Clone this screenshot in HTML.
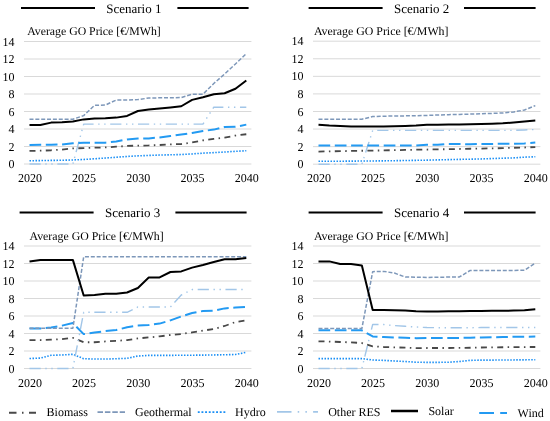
<!DOCTYPE html><html><head><meta charset="utf-8"><style>html,body{margin:0;padding:0;background:#fff;}body{width:550px;height:421px;overflow:hidden;}svg{display:block;will-change:transform;}text{font-family:"Liberation Serif",serif;fill:#000;text-rendering:geometricPrecision;}</style></head><body>
<svg width="550" height="421" viewBox="0 0 550 421">
<line x1="24" x2="251.4" y1="164.00" y2="164.00" stroke="#d9d9d9" stroke-width="1"/>
<text x="14.6" y="168.10" font-size="12" text-anchor="end">0</text>
<line x1="24" x2="251.4" y1="146.50" y2="146.50" stroke="#d9d9d9" stroke-width="1"/>
<text x="14.6" y="150.60" font-size="12" text-anchor="end">2</text>
<line x1="24" x2="251.4" y1="129.00" y2="129.00" stroke="#d9d9d9" stroke-width="1"/>
<text x="14.6" y="133.10" font-size="12" text-anchor="end">4</text>
<line x1="24" x2="251.4" y1="111.50" y2="111.50" stroke="#d9d9d9" stroke-width="1"/>
<text x="14.6" y="115.60" font-size="12" text-anchor="end">6</text>
<line x1="24" x2="251.4" y1="94.00" y2="94.00" stroke="#d9d9d9" stroke-width="1"/>
<text x="14.6" y="98.10" font-size="12" text-anchor="end">8</text>
<line x1="24" x2="251.4" y1="76.50" y2="76.50" stroke="#d9d9d9" stroke-width="1"/>
<text x="14.6" y="80.60" font-size="12" text-anchor="end">10</text>
<line x1="24" x2="251.4" y1="59.00" y2="59.00" stroke="#d9d9d9" stroke-width="1"/>
<text x="14.6" y="63.10" font-size="12" text-anchor="end">12</text>
<line x1="24" x2="251.4" y1="41.50" y2="41.50" stroke="#d9d9d9" stroke-width="1"/>
<text x="14.6" y="45.60" font-size="12" text-anchor="end">14</text>
<text x="29.90" y="182.20" font-size="12" text-anchor="middle">2020</text>
<text x="84.10" y="182.20" font-size="12" text-anchor="middle">2025</text>
<text x="138.30" y="182.20" font-size="12" text-anchor="middle">2030</text>
<text x="192.50" y="182.20" font-size="12" text-anchor="middle">2035</text>
<text x="246.70" y="182.20" font-size="12" text-anchor="middle">2040</text>
<text x="27.2" y="35.10" font-size="11.9" textLength="133.6" lengthAdjust="spacingAndGlyphs">Average GO Price [€/MWh]</text>
<line x1="21" x2="95" y1="8.0" y2="8.0" stroke="#000" stroke-width="2"/>
<line x1="177.4" x2="248.6" y1="8.0" y2="8.0" stroke="#000" stroke-width="2"/>
<text x="133.8" y="12.80" font-size="13" text-anchor="middle">Scenario 1</text>
<polyline points="29.50,160.76 40.34,160.59 51.18,160.41 62.02,160.24 72.86,159.97 83.70,159.45 94.54,158.75 105.38,158.05 116.22,157.26 127.06,156.47 137.90,155.86 148.74,155.43 159.58,155.07 170.42,154.81 181.26,154.55 192.10,153.94 202.94,153.15 213.78,152.62 224.62,152.01 235.46,151.31 246.30,150.70" fill="none" stroke="#1a8ff5" stroke-width="1.6" stroke-dasharray="1.5 1.5" stroke-linejoin="round" stroke-linecap="butt"/>
<polyline points="29.50,150.96 40.34,150.70 51.18,150.26 62.02,149.56 72.86,148.43 83.70,148.07 94.54,147.72 105.38,147.38 116.22,146.68 127.06,145.97 137.90,145.62 148.74,145.45 159.58,145.01 170.42,144.40 181.26,144.05 192.10,142.39 202.94,140.38 213.78,138.97 224.62,137.57 235.46,135.56 246.30,134.25" fill="none" stroke="#484848" stroke-width="1.8" stroke-dasharray="6 4.4 1.5 4.4" stroke-linejoin="round" stroke-linecap="butt"/>
<polyline points="29.50,164.00 40.34,164.00 51.18,164.00 62.02,164.00 72.86,164.00 83.70,124.10 94.54,124.10 105.38,124.10 116.22,124.10 127.06,124.10 137.90,124.10 148.74,124.10 159.58,124.10 170.42,124.10 181.26,124.10 192.10,124.10 202.94,124.10 213.78,107.21 224.62,107.21 235.46,107.21 246.30,107.21" fill="none" stroke="#a2c6e8" stroke-width="1.4" stroke-dasharray="11.2 4.6 1.4 4.6 1.4 4.6" stroke-linejoin="round" stroke-linecap="butt"/>
<polyline points="29.50,145.01 40.34,144.84 51.18,144.75 62.02,144.40 72.86,143.18 83.70,142.65 94.54,142.65 105.38,142.65 116.22,141.60 127.06,139.41 137.90,138.62 148.74,138.45 159.58,137.40 170.42,136.00 181.26,134.60 192.10,133.03 202.94,131.01 213.78,129.61 224.62,126.99 235.46,126.81 246.30,124.62" fill="none" stroke="#239af2" stroke-width="2.0" stroke-dasharray="11.7 4.6" stroke-linejoin="round" stroke-linecap="butt"/>
<polyline points="29.50,119.20 40.34,119.20 51.18,119.20 62.02,119.20 72.86,119.20 83.70,115.61 94.54,105.38 105.38,105.03 116.22,100.04 127.06,100.04 137.90,99.60 148.74,98.03 159.58,97.85 170.42,97.76 181.26,97.50 192.10,94.26 202.94,94.26 213.78,83.50 224.62,73.96 235.46,63.99 246.30,53.58" fill="none" stroke="#7d97b9" stroke-width="1.5" stroke-dasharray="4 1.85" stroke-linejoin="round" stroke-linecap="butt"/>
<polyline points="29.50,124.97 40.34,124.97 51.18,122.61 62.02,122.35 72.86,121.56 83.70,119.38 94.54,118.59 105.38,118.24 116.22,117.62 127.06,115.96 137.90,110.98 148.74,109.58 159.58,108.44 170.42,107.39 181.26,106.25 192.10,99.86 202.94,97.33 213.78,94.26 224.62,93.21 235.46,88.75 246.30,80.44" fill="none" stroke="#000000" stroke-width="2.0" stroke-linejoin="round" stroke-linecap="butt"/>
<line x1="313" x2="540.4" y1="164.20" y2="164.20" stroke="#d9d9d9" stroke-width="1"/>
<text x="303.6" y="168.30" font-size="12" text-anchor="end">0</text>
<line x1="313" x2="540.4" y1="146.63" y2="146.63" stroke="#d9d9d9" stroke-width="1"/>
<text x="303.6" y="150.73" font-size="12" text-anchor="end">2</text>
<line x1="313" x2="540.4" y1="129.06" y2="129.06" stroke="#d9d9d9" stroke-width="1"/>
<text x="303.6" y="133.16" font-size="12" text-anchor="end">4</text>
<line x1="313" x2="540.4" y1="111.49" y2="111.49" stroke="#d9d9d9" stroke-width="1"/>
<text x="303.6" y="115.59" font-size="12" text-anchor="end">6</text>
<line x1="313" x2="540.4" y1="93.91" y2="93.91" stroke="#d9d9d9" stroke-width="1"/>
<text x="303.6" y="98.01" font-size="12" text-anchor="end">8</text>
<line x1="313" x2="540.4" y1="76.34" y2="76.34" stroke="#d9d9d9" stroke-width="1"/>
<text x="303.6" y="80.44" font-size="12" text-anchor="end">10</text>
<line x1="313" x2="540.4" y1="58.77" y2="58.77" stroke="#d9d9d9" stroke-width="1"/>
<text x="303.6" y="62.87" font-size="12" text-anchor="end">12</text>
<line x1="313" x2="540.4" y1="41.20" y2="41.20" stroke="#d9d9d9" stroke-width="1"/>
<text x="303.6" y="45.30" font-size="12" text-anchor="end">14</text>
<text x="318.90" y="182.40" font-size="12" text-anchor="middle">2020</text>
<text x="373.10" y="182.40" font-size="12" text-anchor="middle">2025</text>
<text x="427.30" y="182.40" font-size="12" text-anchor="middle">2030</text>
<text x="481.50" y="182.40" font-size="12" text-anchor="middle">2035</text>
<text x="535.70" y="182.40" font-size="12" text-anchor="middle">2040</text>
<text x="313.9" y="34.80" font-size="11.9" textLength="134.6" lengthAdjust="spacingAndGlyphs">Average GO Price [€/MWh]</text>
<line x1="308.6" x2="382.6" y1="8.0" y2="8.0" stroke="#000" stroke-width="2"/>
<line x1="464" x2="535.6" y1="8.0" y2="8.0" stroke="#000" stroke-width="2"/>
<text x="421.7" y="12.80" font-size="13" text-anchor="middle">Scenario 2</text>
<polyline points="318.50,161.21 329.34,161.21 340.18,161.21 351.02,161.12 361.86,161.04 372.70,160.95 383.54,160.86 394.38,160.69 405.22,160.51 416.06,160.33 426.90,160.16 437.74,159.89 448.58,159.63 459.42,159.37 470.26,159.19 481.10,158.93 491.94,158.58 502.78,158.23 513.62,157.87 524.46,157.17 535.30,156.73" fill="none" stroke="#1a8ff5" stroke-width="1.6" stroke-dasharray="1.5 1.5" stroke-linejoin="round" stroke-linecap="butt"/>
<polyline points="318.50,151.55 329.34,151.37 340.18,151.11 351.02,150.93 361.86,150.76 372.70,150.58 383.54,150.41 394.38,150.14 405.22,149.97 416.06,149.70 426.90,149.53 437.74,149.35 448.58,149.18 459.42,149.00 470.26,148.74 481.10,148.56 491.94,148.39 502.78,148.12 513.62,147.77 524.46,147.51 535.30,147.07" fill="none" stroke="#484848" stroke-width="1.8" stroke-dasharray="6 4.4 1.5 4.4" stroke-linejoin="round" stroke-linecap="butt"/>
<polyline points="318.50,164.20 329.34,164.20 340.18,164.20 351.02,164.20 361.86,164.20 372.70,130.38 383.54,130.38 394.38,130.38 405.22,130.38 416.06,130.38 426.90,130.38 437.74,130.38 448.58,130.38 459.42,130.38 470.26,130.38 481.10,130.38 491.94,130.38 502.78,130.38 513.62,130.38 524.46,129.94 535.30,129.50" fill="none" stroke="#a2c6e8" stroke-width="1.4" stroke-dasharray="11.2 4.6 1.4 4.6 1.4 4.6" stroke-linejoin="round" stroke-linecap="butt"/>
<polyline points="318.50,145.49 329.34,145.49 340.18,145.49 351.02,145.49 361.86,145.49 372.70,145.49 383.54,145.49 394.38,145.49 405.22,145.49 416.06,145.49 426.90,144.87 437.74,144.87 448.58,143.99 459.42,143.99 470.26,144.26 481.10,143.99 491.94,143.99 502.78,143.73 513.62,143.73 524.46,143.47 535.30,142.50" fill="none" stroke="#239af2" stroke-width="2.0" stroke-dasharray="11.7 4.6" stroke-linejoin="round" stroke-linecap="butt"/>
<polyline points="318.50,119.22 329.34,119.22 340.18,119.22 351.02,119.22 361.86,119.22 372.70,116.58 383.54,116.23 394.38,115.88 405.22,115.88 416.06,115.70 426.90,115.44 437.74,115.00 448.58,114.65 459.42,114.38 470.26,114.12 481.10,113.77 491.94,113.42 502.78,112.98 513.62,111.92 524.46,109.99 535.30,105.60" fill="none" stroke="#7d97b9" stroke-width="1.5" stroke-dasharray="4 1.85" stroke-linejoin="round" stroke-linecap="butt"/>
<polyline points="318.50,124.66 329.34,125.45 340.18,125.98 351.02,126.42 361.86,126.60 372.70,126.60 383.54,126.42 394.38,126.16 405.22,125.89 416.06,125.54 426.90,124.84 437.74,124.66 448.58,124.49 459.42,124.40 470.26,124.22 481.10,124.05 491.94,123.79 502.78,123.35 513.62,122.47 524.46,121.50 535.30,120.62" fill="none" stroke="#000000" stroke-width="2.0" stroke-linejoin="round" stroke-linecap="butt"/>
<line x1="24" x2="251.4" y1="368.50" y2="368.50" stroke="#d9d9d9" stroke-width="1"/>
<text x="14.6" y="372.60" font-size="12" text-anchor="end">0</text>
<line x1="24" x2="251.4" y1="351.00" y2="351.00" stroke="#d9d9d9" stroke-width="1"/>
<text x="14.6" y="355.10" font-size="12" text-anchor="end">2</text>
<line x1="24" x2="251.4" y1="333.50" y2="333.50" stroke="#d9d9d9" stroke-width="1"/>
<text x="14.6" y="337.60" font-size="12" text-anchor="end">4</text>
<line x1="24" x2="251.4" y1="316.00" y2="316.00" stroke="#d9d9d9" stroke-width="1"/>
<text x="14.6" y="320.10" font-size="12" text-anchor="end">6</text>
<line x1="24" x2="251.4" y1="298.50" y2="298.50" stroke="#d9d9d9" stroke-width="1"/>
<text x="14.6" y="302.60" font-size="12" text-anchor="end">8</text>
<line x1="24" x2="251.4" y1="281.00" y2="281.00" stroke="#d9d9d9" stroke-width="1"/>
<text x="14.6" y="285.10" font-size="12" text-anchor="end">10</text>
<line x1="24" x2="251.4" y1="263.50" y2="263.50" stroke="#d9d9d9" stroke-width="1"/>
<text x="14.6" y="267.60" font-size="12" text-anchor="end">12</text>
<line x1="24" x2="251.4" y1="246.00" y2="246.00" stroke="#d9d9d9" stroke-width="1"/>
<text x="14.6" y="250.10" font-size="12" text-anchor="end">14</text>
<text x="29.90" y="386.70" font-size="12" text-anchor="middle">2020</text>
<text x="84.10" y="386.70" font-size="12" text-anchor="middle">2025</text>
<text x="138.30" y="386.70" font-size="12" text-anchor="middle">2030</text>
<text x="192.50" y="386.70" font-size="12" text-anchor="middle">2035</text>
<text x="246.70" y="386.70" font-size="12" text-anchor="middle">2040</text>
<text x="29.5" y="239.60" font-size="11.9" textLength="134.2" lengthAdjust="spacingAndGlyphs">Average GO Price [€/MWh]</text>
<line x1="19.6" x2="93.6" y1="212.4" y2="212.4" stroke="#000" stroke-width="2"/>
<line x1="175.4" x2="246.6" y1="212.4" y2="212.4" stroke="#000" stroke-width="2"/>
<text x="132.7" y="217.20" font-size="13" text-anchor="middle">Scenario 3</text>
<polyline points="29.50,358.52 40.34,358.09 51.18,355.29 62.02,354.94 72.86,354.32 83.70,358.70 94.54,359.05 105.38,359.05 116.22,358.70 127.06,358.35 137.90,355.99 148.74,355.38 159.58,355.38 170.42,355.38 181.26,355.20 192.10,355.20 202.94,355.11 213.78,354.94 224.62,354.76 235.46,354.50 246.30,352.31" fill="none" stroke="#1a8ff5" stroke-width="1.6" stroke-dasharray="1.5 1.5" stroke-linejoin="round" stroke-linecap="butt"/>
<polyline points="29.50,340.06 40.34,340.06 51.18,339.62 62.02,339.10 72.86,337.88 83.70,342.25 94.54,342.25 105.38,341.46 116.22,340.85 127.06,340.06 137.90,338.40 148.74,337.44 159.58,336.39 170.42,334.99 181.26,334.02 192.10,332.36 202.94,330.61 213.78,329.04 224.62,325.98 235.46,322.04 246.30,320.38" fill="none" stroke="#484848" stroke-width="1.8" stroke-dasharray="6 4.4 1.5 4.4" stroke-linejoin="round" stroke-linecap="butt"/>
<polyline points="29.50,368.50 40.34,368.50 51.18,368.50 62.02,368.50 72.86,368.50 83.70,312.32 94.54,312.32 105.38,312.32 116.22,312.32 127.06,312.32 137.90,306.99 148.74,306.99 159.58,306.99 170.42,306.99 181.26,295.00 192.10,289.57 202.94,289.57 213.78,289.57 224.62,289.57 235.46,289.57 246.30,289.57" fill="none" stroke="#a2c6e8" stroke-width="1.4" stroke-dasharray="11.2 4.6 1.4 4.6 1.4 4.6" stroke-linejoin="round" stroke-linecap="butt"/>
<polyline points="29.50,328.51 40.34,328.51 51.18,327.46 62.02,325.62 72.86,323.09 83.70,334.11 94.54,332.54 105.38,331.14 116.22,330.09 127.06,327.20 137.90,325.62 148.74,325.01 159.58,323.61 170.42,320.38 181.26,316.44 192.10,313.02 202.94,311.01 213.78,310.66 224.62,308.39 235.46,307.60 246.30,306.99" fill="none" stroke="#239af2" stroke-width="2.0" stroke-dasharray="11.7 4.6" stroke-linejoin="round" stroke-linecap="butt"/>
<polyline points="29.50,328.25 40.34,328.25 51.18,328.25 62.02,328.25 72.86,328.25 83.70,256.68 94.54,256.68 105.38,256.68 116.22,256.68 127.06,256.68 137.90,256.68 148.74,256.68 159.58,256.68 170.42,256.68 181.26,256.68 192.10,256.68 202.94,256.68 213.78,256.68 224.62,256.68 235.46,256.68 246.30,256.68" fill="none" stroke="#7d97b9" stroke-width="1.5" stroke-dasharray="4 1.85" stroke-linejoin="round" stroke-linecap="butt"/>
<polyline points="29.50,261.49 40.34,259.91 51.18,259.91 62.02,259.91 72.86,259.91 83.70,295.52 94.54,295.09 105.38,293.86 116.22,293.86 127.06,292.46 137.90,288.00 148.74,277.59 159.58,277.41 170.42,271.99 181.26,271.38 192.10,267.61 202.94,264.99 213.78,262.01 224.62,259.21 235.46,259.21 246.30,257.99" fill="none" stroke="#000000" stroke-width="2.0" stroke-linejoin="round" stroke-linecap="butt"/>
<line x1="313" x2="540.4" y1="368.50" y2="368.50" stroke="#d9d9d9" stroke-width="1"/>
<text x="303.6" y="372.60" font-size="12" text-anchor="end">0</text>
<line x1="313" x2="540.4" y1="351.00" y2="351.00" stroke="#d9d9d9" stroke-width="1"/>
<text x="303.6" y="355.10" font-size="12" text-anchor="end">2</text>
<line x1="313" x2="540.4" y1="333.50" y2="333.50" stroke="#d9d9d9" stroke-width="1"/>
<text x="303.6" y="337.60" font-size="12" text-anchor="end">4</text>
<line x1="313" x2="540.4" y1="316.00" y2="316.00" stroke="#d9d9d9" stroke-width="1"/>
<text x="303.6" y="320.10" font-size="12" text-anchor="end">6</text>
<line x1="313" x2="540.4" y1="298.50" y2="298.50" stroke="#d9d9d9" stroke-width="1"/>
<text x="303.6" y="302.60" font-size="12" text-anchor="end">8</text>
<line x1="313" x2="540.4" y1="281.00" y2="281.00" stroke="#d9d9d9" stroke-width="1"/>
<text x="303.6" y="285.10" font-size="12" text-anchor="end">10</text>
<line x1="313" x2="540.4" y1="263.50" y2="263.50" stroke="#d9d9d9" stroke-width="1"/>
<text x="303.6" y="267.60" font-size="12" text-anchor="end">12</text>
<line x1="313" x2="540.4" y1="246.00" y2="246.00" stroke="#d9d9d9" stroke-width="1"/>
<text x="303.6" y="250.10" font-size="12" text-anchor="end">14</text>
<text x="318.90" y="386.70" font-size="12" text-anchor="middle">2020</text>
<text x="373.10" y="386.70" font-size="12" text-anchor="middle">2025</text>
<text x="427.30" y="386.70" font-size="12" text-anchor="middle">2030</text>
<text x="481.50" y="386.70" font-size="12" text-anchor="middle">2035</text>
<text x="535.70" y="386.70" font-size="12" text-anchor="middle">2040</text>
<text x="313.9" y="239.60" font-size="11.9" textLength="134.6" lengthAdjust="spacingAndGlyphs">Average GO Price [€/MWh]</text>
<line x1="308.6" x2="382.6" y1="212.4" y2="212.4" stroke="#000" stroke-width="2"/>
<line x1="464" x2="535.6" y1="212.4" y2="212.4" stroke="#000" stroke-width="2"/>
<text x="421.7" y="217.20" font-size="13" text-anchor="middle">Scenario 4</text>
<polyline points="318.50,358.61 329.34,358.61 340.18,358.61 351.02,358.61 361.86,358.61 372.70,360.01 383.54,360.36 394.38,360.98 405.22,361.50 416.06,362.20 426.90,362.38 437.74,362.38 448.58,362.20 459.42,361.50 470.26,360.36 481.10,360.10 491.94,360.10 502.78,360.01 513.62,359.93 524.46,359.84 535.30,359.75" fill="none" stroke="#1a8ff5" stroke-width="1.6" stroke-dasharray="1.5 1.5" stroke-linejoin="round" stroke-linecap="butt"/>
<polyline points="318.50,341.38 329.34,341.55 340.18,341.99 351.02,342.43 361.86,343.04 372.70,346.36 383.54,346.98 394.38,347.32 405.22,347.68 416.06,348.11 426.90,348.02 437.74,348.02 448.58,348.02 459.42,347.85 470.26,347.76 481.10,347.50 491.94,347.32 502.78,347.24 513.62,347.15 524.46,347.06 535.30,346.98" fill="none" stroke="#484848" stroke-width="1.8" stroke-dasharray="6 4.4 1.5 4.4" stroke-linejoin="round" stroke-linecap="butt"/>
<polyline points="318.50,368.50 329.34,368.50 340.18,368.50 351.02,368.50 361.86,368.50 372.70,324.40 383.54,324.57 394.38,325.62 405.22,326.32 416.06,327.02 426.90,327.55 437.74,327.73 448.58,327.73 459.42,327.73 470.26,327.73 481.10,327.55 491.94,327.55 502.78,327.55 513.62,327.55 524.46,327.55 535.30,327.55" fill="none" stroke="#a2c6e8" stroke-width="1.4" stroke-dasharray="11.2 4.6 1.4 4.6 1.4 4.6" stroke-linejoin="round" stroke-linecap="butt"/>
<polyline points="318.50,330.35 329.34,330.35 340.18,330.35 351.02,330.35 361.86,330.35 372.70,336.39 383.54,337.00 394.38,337.44 405.22,337.70 416.06,338.14 426.90,337.96 437.74,337.96 448.58,337.96 459.42,337.88 470.26,337.70 481.10,337.44 491.94,337.26 502.78,337.00 513.62,336.82 524.46,336.74 535.30,336.56" fill="none" stroke="#239af2" stroke-width="2.0" stroke-dasharray="11.7 4.6" stroke-linejoin="round" stroke-linecap="butt"/>
<polyline points="318.50,328.51 329.34,328.51 340.18,328.51 351.02,328.51 361.86,328.51 372.70,271.64 383.54,271.38 394.38,273.04 405.22,276.98 416.06,277.24 426.90,277.41 437.74,277.24 448.58,277.06 459.42,276.98 470.26,270.41 481.10,270.41 491.94,270.41 502.78,270.41 513.62,270.41 524.46,270.24 535.30,262.98" fill="none" stroke="#7d97b9" stroke-width="1.5" stroke-dasharray="4 1.85" stroke-linejoin="round" stroke-linecap="butt"/>
<polyline points="318.50,261.40 329.34,261.40 340.18,264.02 351.02,264.02 361.86,265.43 372.70,309.96 383.54,309.88 394.38,310.23 405.22,310.57 416.06,311.19 426.90,311.45 437.74,311.45 448.58,311.36 459.42,311.27 470.26,311.10 481.10,310.93 491.94,310.84 502.78,310.75 513.62,310.57 524.46,310.23 535.30,309.35" fill="none" stroke="#000000" stroke-width="2.0" stroke-linejoin="round" stroke-linecap="butt"/>
<line x1="9" x2="36" y1="412.8" y2="412.8" stroke="#484848" stroke-width="2" stroke-dasharray="7.5 5.5 1.5 5.5"/>
<text x="46.6" y="416.3" font-size="12">Biomass</text>
<line x1="97.5" x2="125" y1="412.1" y2="412.1" stroke="#7d97b9" stroke-width="1.8" stroke-dasharray="5.5 1.9"/>
<text x="135" y="415.8" font-size="12">Geothermal</text>
<line x1="197.8" x2="225.5" y1="412.1" y2="412.1" stroke="#1a8ff5" stroke-width="1.9" stroke-dasharray="1.9 1.76"/>
<text x="235" y="416.0" font-size="12">Hydro</text>
<line x1="277" x2="318" y1="411.8" y2="411.8" stroke="#a2c6e8" stroke-width="1.8" stroke-dasharray="14.5 6.2 1.5 6.2 1.5 6.2"/>
<text x="328.2" y="415.6" font-size="12">Other RES</text>
<line x1="391" x2="418" y1="411.0" y2="411.0" stroke="#000000" stroke-width="2.5"/>
<text x="428.4" y="415.0" font-size="12">Solar</text>
<line x1="479.2" x2="507" y1="413.0" y2="413.0" stroke="#239af2" stroke-width="2" stroke-dasharray="14.8 6.2"/>
<text x="517.6" y="416.5" font-size="12">Wind</text>
</svg></body></html>
